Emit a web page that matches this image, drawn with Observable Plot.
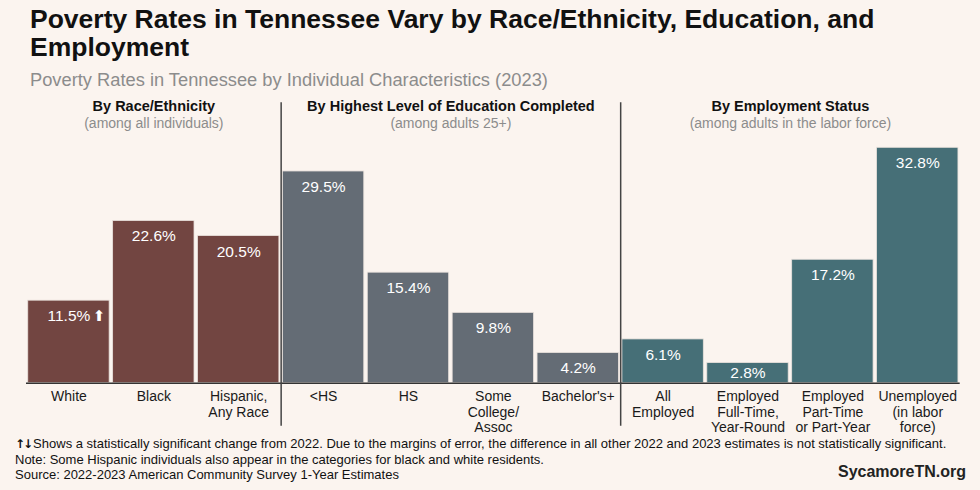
<!DOCTYPE html>
<html>
<head>
<meta charset="utf-8">
<script src="https://cdn.jsdelivr.net/npm/d3@7"></script>
<script src="https://cdn.jsdelivr.net/npm/@observablehq/plot@0.6"></script>
<style>
  html, body { margin: 0; padding: 0; background: #fbf4ef; }
  body { width: 980px; height: 490px; position: relative; overflow: hidden;
         font-family: "Liberation Sans", Arial, Helvetica, sans-serif; }
  #title { position: absolute; left: 30px; top: 4.8px; font-size: 26.5px; line-height: 28px;
           font-weight: bold; color: #111; white-space: nowrap; }
  #subtitle { position: absolute; left: 30px; top: 68.7px; font-size: 18.3px; line-height: 22px;
              color: #8c8c8c; white-space: nowrap; }
  #chart { position: absolute; left: 0; top: 92px; }
  #notes { position: absolute; left: 15px; top: 436px; font-size: 13px; line-height: 15px;
           color: #111; white-space: nowrap; }
  #notes .arr { font-family: "DejaVu Sans", sans-serif; font-size: 12px; font-weight: bold; letter-spacing: -2px; margin-right: 2px; }
  #brand { position: absolute; right: 14px; top: 462px; font-size: 16px; line-height: 20px;
           font-weight: bold; color: #222; }
</style>
</head>
<body>
<div id="title">Poverty Rates in Tennessee Vary by Race/Ethnicity, Education, and<br>Employment</div>
<div id="subtitle">Poverty Rates in Tennessee by Individual Characteristics (2023)</div>
<div id="chart"></div>
<div id="notes">
  <div><span class="arr">↑↓</span>Shows a statistically significant change from 2022. Due to the margins of error, the difference in all other 2022 and 2023 estimates is not statistically significant.</div>
  <div>Note: Some Hispanic individuals also appear in the categories for black and white residents.</div>
  <div>Source: 2022-2023 American Community Survey 1-Year Estimates</div>
</div>
<div id="brand">SycamoreTN.org</div>
<script>
// ---- data ----
const categories = [
  "White", "Black", "Hispanic,\nAny Race",
  "<HS", "HS", "Some\nCollege/\nAssoc", "Bachelor's+",
  "All\nEmployed", "Employed\nFull-Time,\nYear-Round", "Employed\nPart-Time\nor Part-Year", "Unemployed\n(in labor\nforce)"
];
const values = [11.5, 22.6, 20.5, 29.5, 15.4, 9.8, 4.2, 6.1, 2.8, 17.2, 32.8];
const groups = ["race", "race", "race", "edu", "edu", "edu", "edu", "emp", "emp", "emp", "emp"];
const changes = ["up", "", "", "", "", "", "", "", "", "", ""];

const groupKeys = ["race", "edu", "emp"];
const groupColors = ["#724541", "#646c75", "#466f77"];
const panelTitles = ["By Race/Ethnicity", "By Highest Level of Education Completed", "By Employment Status"];
const panelNotes = ["(among all individuals)", "(among adults 25+)", "(among adults in the labor force)"];
const panelCenterCat = ["Black", "HS", "Employed\nFull-Time,\nYear-Round"];
const panelCenterShift = [0, 0.5, 0.5]; // in band steps
const dividerAfter = ["Hispanic,\nAny Race", "Bachelor's+"];

// ---- layout ----
const W = 980, H = 348;
const mL = 26, mR = 20.3, mT = 55.3, mB = 57.3;
const gap = 1.75;
const step = (W - mL - mR) / categories.length;
const yMax = 32.8;
const pxPerUnit = (H - mT - mB) / yMax;

const rows = categories.map((c, i) => ({
  cat: c, value: values[i], group: groups[i], change: changes[i],
  labelY: Math.max(values[i] - 15.5 / pxPerUnit, values[i] / 2),
  label: values[i].toFixed(1) + "%"
}));

const panelMarks = panelTitles.flatMap((t, i) => [
  Plot.text([t], {x: () => panelCenterCat[i], frameAnchor: "top", dx: panelCenterShift[i] * step, dy: -41.6,
    lineAnchor: "middle", fontSize: 14.5, fontWeight: "bold", fill: "#111"}),
  Plot.text([panelNotes[i]], {x: () => panelCenterCat[i], frameAnchor: "top", dx: panelCenterShift[i] * step, dy: -24,
    lineAnchor: "middle", fontSize: 14, fill: "#8c8c8c"})
]);

const chart = Plot.plot({
  width: W, height: H,
  marginLeft: mL, marginRight: mR, marginTop: mT, marginBottom: mB,
  style: {background: "transparent", fontFamily: "'Liberation Sans', Arial, Helvetica, sans-serif"},
  x: {domain: categories, padding: 0, round: false, label: null},
  y: {domain: [0, yMax], axis: null},
  color: {domain: groupKeys, range: groupColors},
  marks: [
    Plot.barY(rows, {x: "cat", y: "value", fill: "group", stroke: "#e9e1dc", strokeWidth: 0.8,
      insetLeft: gap, insetRight: gap}),
    Plot.ruleY([0], {stroke: "#333", strokeWidth: 1.5}),
    Plot.ruleX(dividerAfter, {x: d => d, dx: step / 2, stroke: "#444", strokeWidth: 1.5, insetTop: -45, insetBottom: -43}),
    Plot.text(rows, {x: "cat", y: "labelY", text: "label", fill: "white", fontSize: 15.5}),
    Plot.text(rows.filter(d => d.change === "up"), {x: "cat", y: "labelY", text: () => "⬆", fill: "white",
      fontSize: 15, dx: 30, fontFamily: "DejaVu Sans"}),
    Plot.axisX({tickSize: 0, tickPadding: 7, fontSize: 14, lineHeight: 1.1, fill: "#1a1a1a", label: null}),
    ...panelMarks
  ]
});
document.getElementById("chart").appendChild(chart);
</script>
</body>
</html>
